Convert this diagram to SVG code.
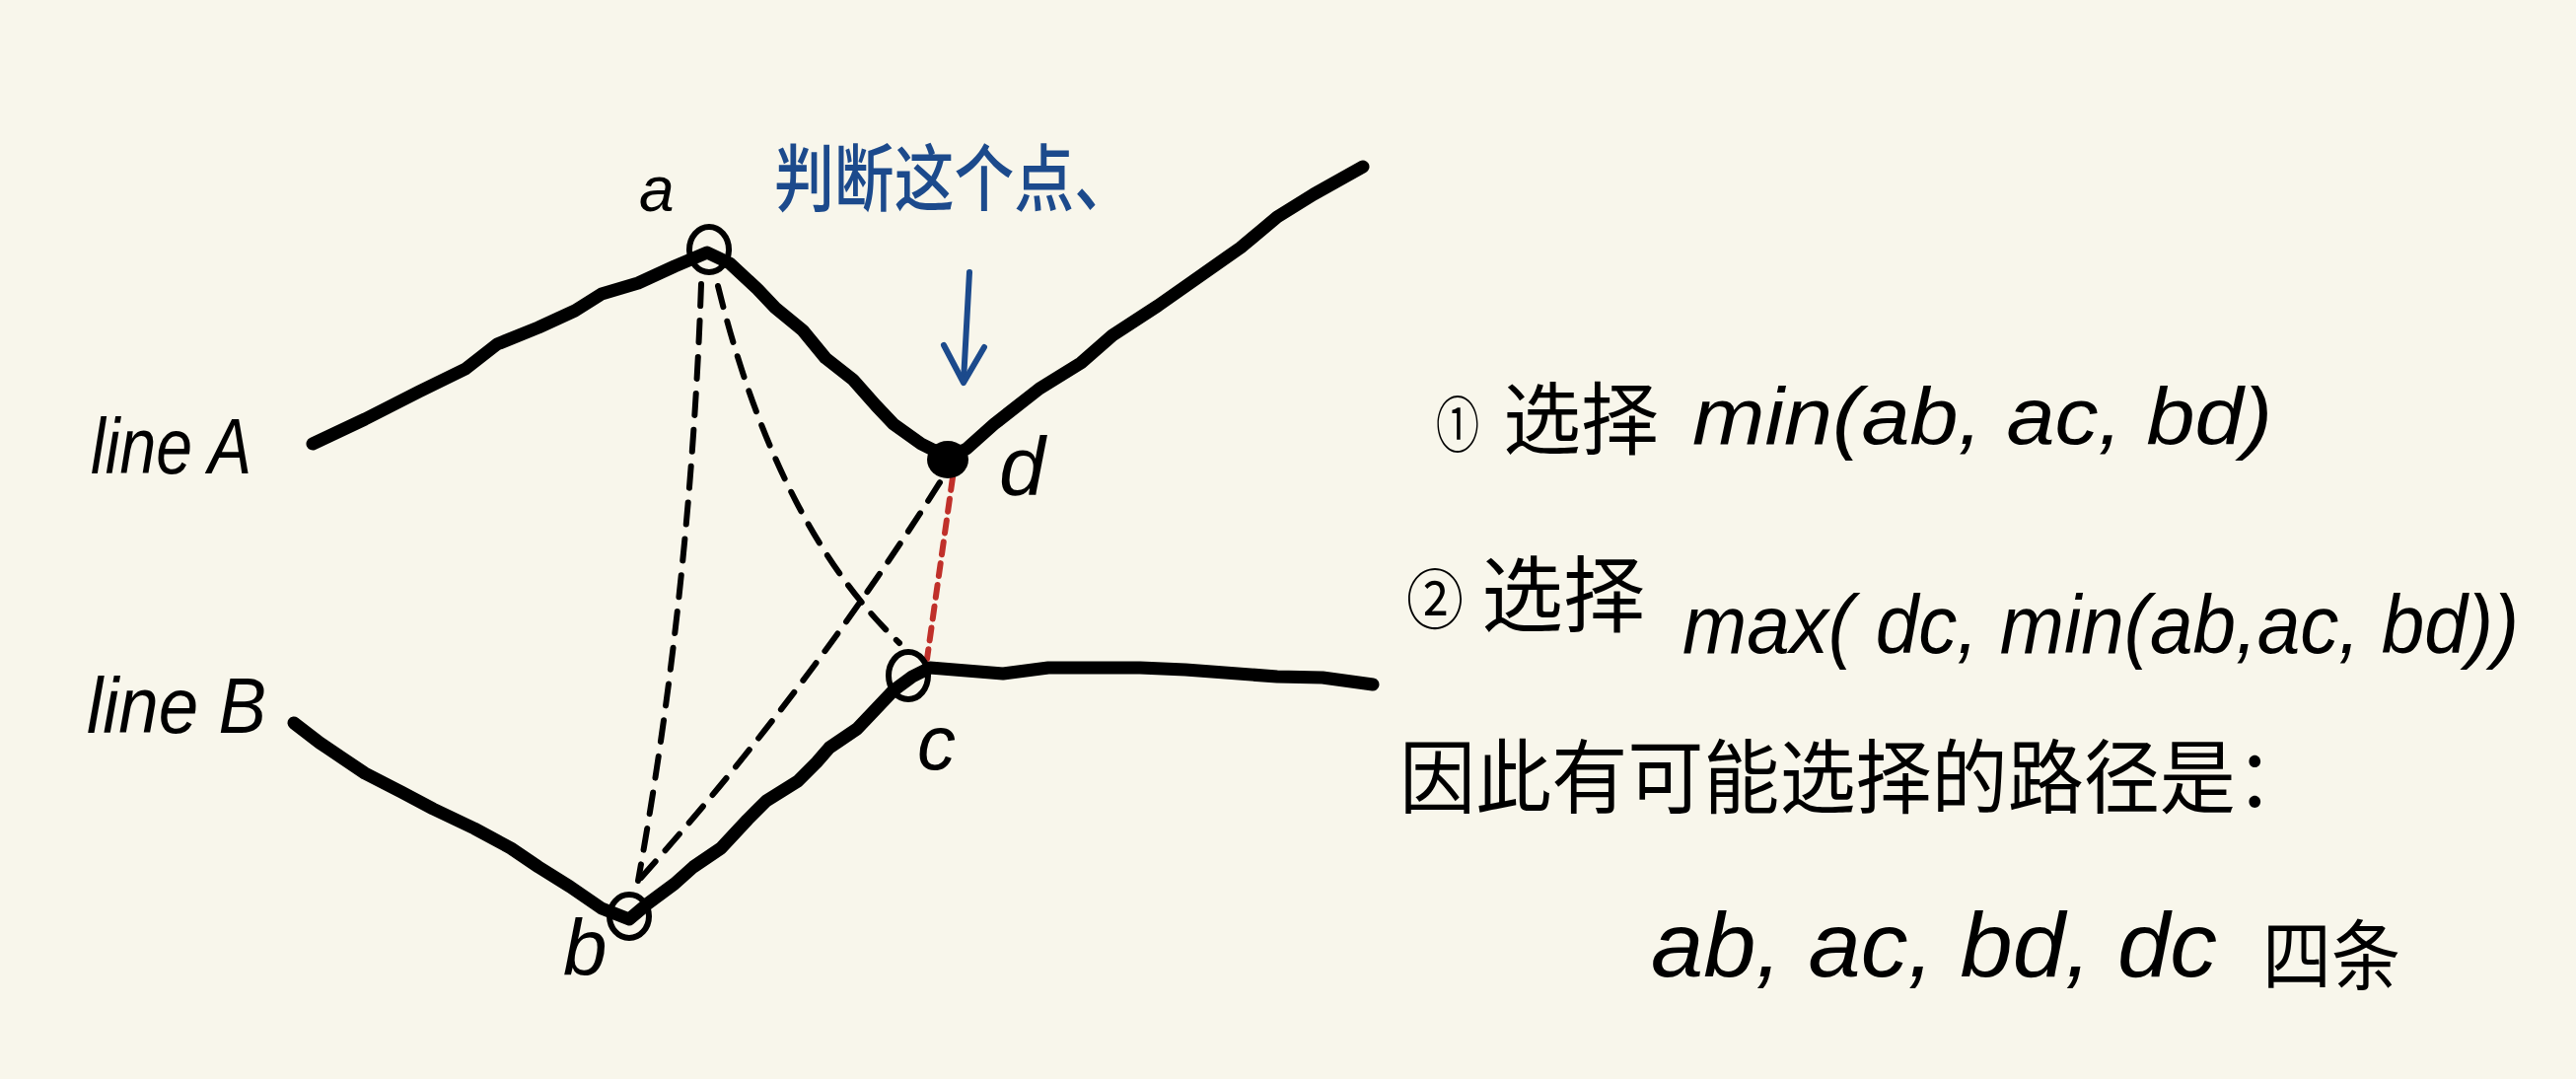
<svg xmlns="http://www.w3.org/2000/svg" width="2612" height="1094" viewBox="0 0 2612 1094">
<style>
.bg{fill:#f8f6eb}
.thick{fill:none;stroke:#000;stroke-width:13;stroke-linecap:round;stroke-linejoin:round}
.dash{fill:none;stroke:#000;stroke-width:6;stroke-dasharray:22 15;stroke-linecap:round}
.red{fill:none;stroke:#c0302a;stroke-width:6;stroke-dasharray:13 9;stroke-linecap:round}
.ring{fill:none;stroke:#000;stroke-width:6}
.lat{font-family:"Liberation Sans",Arial,sans-serif;font-style:italic;fill:#000}
.cjk{font-family:"Noto Sans CJK SC","Liberation Sans",sans-serif;fill:#000}
.blue{font-family:"Noto Sans CJK SC",sans-serif;font-weight:500;fill:#1c4a8c}
.arr{fill:none;stroke:#1c4a8c;stroke-width:6;stroke-linecap:round;stroke-linejoin:round}
</style>
<rect class="bg" x="0" y="0" width="2612" height="1094"/>

<g id="polylines">
<path id="lineA" class="thick" d="M317,450 L370,425 L425,397 L472,374 L504,349 L546,332 L583,315 L610,298 L647,287 L684,270 L717,256 L740,267 L768,293 L786,312 L814,335 L837,363 L865,385 L888,411 L906,430 L934,450 L962,464 L980,455 L1008,430 L1054,394 L1096,368 L1128,340 L1174,310 L1211,284 L1258,251 L1295,220 L1332,197 L1382,169"/>
<path id="lineB" class="thick" d="M298,733 L324,753 L370,784 L407,803 L439,820 L481,840 L518,860 L546,879 L578,899 L610,921 L638,932 L657,916 L684,896 L703,879 L731,860 L758,831 L777,812 L809,792 L828,773 L841,758 L869,739 L888,719 L906,700 L925,686 L943,677 L1017,683 L1063,677 L1156,677 L1202,679 L1295,686 L1341,687 L1392,694"/>
</g>

<g id="connectors">
<path class="dash" d="M711,288 Q700,600 647,893"/>
<path class="dash" d="M728,290 C760,420 815,560 912,652"/>
<path class="dash" d="M650,890 Q820,700 955,486"/>
<path class="red" d="M966,484 L940,668"/>
</g>

<g id="node-a">
<ellipse class="ring" cx="719" cy="253" rx="20" ry="23"/>
<text class="lat" x="648" y="214" font-size="64">a</text>
</g>
<g id="node-b">
<ellipse class="ring" cx="638" cy="929" rx="20" ry="22"/>
<text class="lat" x="571" y="988" font-size="80">b</text>
</g>
<g id="node-c">
<ellipse class="ring" cx="921" cy="685" rx="20" ry="24"/>
<text class="lat" x="930" y="780" font-size="78">c</text>
</g>
<g id="node-d">
<ellipse cx="961" cy="466" rx="21" ry="19" fill="#000"/>
<text class="lat" x="1013" y="502" font-size="84">d</text>
</g>

<g id="labels">
<text class="lat" x="92" y="480" font-size="80" textLength="163" lengthAdjust="spacingAndGlyphs">line A</text>
<text class="lat" x="88" y="743" font-size="80" textLength="182" lengthAdjust="spacingAndGlyphs">line B</text>
</g>

<g id="annotation">
<text class="blue" x="785" y="208" font-size="74" textLength="365" lengthAdjust="spacingAndGlyphs">判断这个点、</text>
<path class="arr" d="M983,276 L977,386"/>
<path class="arr" d="M957,350 L977,388 L998,352"/>
</g>

<g id="notes">
<text class="cjk" x="1456" y="454" font-size="62" textLength="44" lengthAdjust="spacingAndGlyphs">①</text>
<text class="cjk" x="1524" y="454" font-size="80" textLength="158" lengthAdjust="spacingAndGlyphs">选择</text>
<text class="lat" x="1716" y="450" font-size="82" textLength="588" lengthAdjust="spacingAndGlyphs">min(ab, ac, bd)</text>

<text class="cjk" x="1426" y="632" font-size="66" textLength="58" lengthAdjust="spacingAndGlyphs">②</text>
<text class="cjk" x="1502" y="634" font-size="84" textLength="166" lengthAdjust="spacingAndGlyphs">选择</text>
<text class="lat" x="1706" y="662" font-size="84" textLength="848" lengthAdjust="spacingAndGlyphs">max( dc, min(ab,ac, bd))</text>

<text class="cjk" x="1419" y="818" font-size="82" textLength="925" lengthAdjust="spacingAndGlyphs">因此有可能选择的路径是：</text>

<text class="lat" x="1674" y="990" font-size="92" textLength="574" lengthAdjust="spacingAndGlyphs">ab, ac, bd, dc</text>
<text class="cjk" x="2294" y="998" font-size="78" textLength="140" lengthAdjust="spacingAndGlyphs">四条</text>
</g>
</svg>
